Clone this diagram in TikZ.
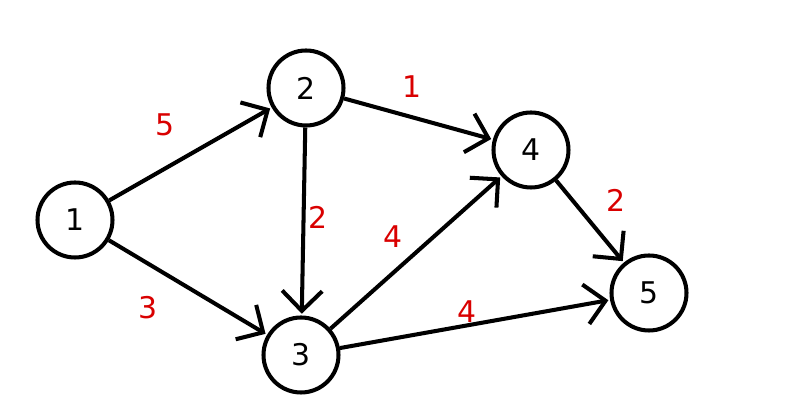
\documentclass[tikz,border=0pt]{standalone}
\usepackage{fontspec}
\setmainfont{DejaVu Sans}
\usetikzlibrary{
	arrows.meta,
	positioning
}

\begin{document}
\begin{tikzpicture} [
		vertex/.style = {
			circle,
			draw,
			line width = 2.3pt,
			minimum size = 1.5cm,
			inner sep = 0pt,
			font = \fontsize{17}{20}\selectfont
		},
		line/.style = {
			draw,
			line width = 2.3pt,
			-{Straight Barb[length = 4mm, width = 8mm, line width = 2.3pt]},
			shorten >= 1pt
		},
		weight/.style = {
			text = red!85!black,
			font = \fontsize{17}{20}\selectfont
		}
	]
	\useasboundingbox (0, 0) rectangle (16.18, 8.34);

	\node[vertex] (v1) at (1.5, 3.94) {1};
	\node[vertex] (v2) at (6.12, 6.58) {2};
	\node[vertex] (v3) at (6.02, 1.24) {3};
	\node[vertex] (v4) at (10.62, 5.34) {4};
	\node[vertex] (v5) at (12.98, 2.48) {5};

	\path[line] (v1) -- (v2);
	\path[line] (v1) -- (v3);
	\path[line] (v2) -- (v3);
	\path[line] (v2) -- (v4);
	\path[line] (v3) -- (v4);
	\path[line] (v3) -- (v5);
	\path[line] (v4) -- (v5);

	\node[weight] (w12) at (3.3, 5.84) {5};
	\node[weight] (w13) at (2.96, 2.18) {3};
	\node[weight] (w23) at (6.36, 4.0) {2};
	\node[weight] (w24) at (8.24, 6.6) {1};
	\node[weight] (w34) at (7.86, 3.6) {4};
	\node[weight] (w35) at (9.34, 2.1) {4};
	\node[weight] (w45) at (12.32, 4.34) {2};
\end{tikzpicture}
\end{document}
